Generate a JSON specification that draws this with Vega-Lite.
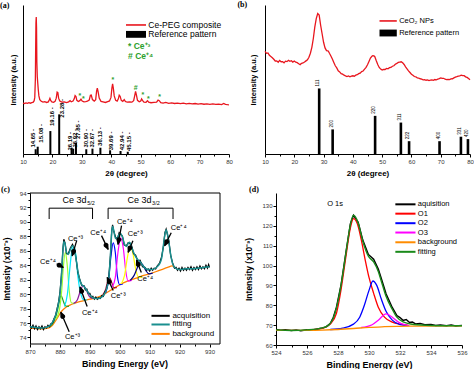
{
"$schema": "https://vega.github.io/schema/vega-lite/v6.json",
"padding": {"left": 0, "top": 1, "right": 0, "bottom": 0},
"background": "white",
"config": {
 "view": {"stroke": null},
 "font": "Liberation Sans",
 "axis": {"domainColor": "#000", "tickColor": "#000", "labelColor": "#333", "labelFontSize": 6, "labelFont": "Liberation Sans", "titleFont": "Liberation Sans", "titleColor": "#000", "titleFontWeight": "bold", "grid": false, "labelOverlap": false, "labelPadding": 1, "labelFlush": false, "domainWidth": 1, "tickWidth": 1},
 "text": {"font": "Liberation Sans"}
},
"datasets": {
 "a_line": [{"x":10,"y":34.2},{"x":10.5,"y":33.9},{"x":11,"y":34.3},{"x":11.5,"y":34.0},{"x":12,"y":34.4},{"x":12.5,"y":34.1},{"x":13,"y":34.5},{"x":13.5,"y":34.8},{"x":13.8,"y":35.8},{"x":14.0,"y":38},{"x":14.2,"y":50},{"x":14.3,"y":70},{"x":14.4,"y":88},{"x":14.5,"y":92},{"x":14.6,"y":85},{"x":14.7,"y":62},{"x":14.85,"y":52},{"x":15.0,"y":48},{"x":15.2,"y":43},{"x":15.4,"y":39},{"x":15.7,"y":36.5},{"x":16.2,"y":35.4},{"x":16.8,"y":34.8},{"x":17.4,"y":35.1},{"x":18.0,"y":34.6},{"x":18.6,"y":35.0},{"x":18.95,"y":36.4},{"x":19.15,"y":37.4},{"x":19.4,"y":36},{"x":19.8,"y":35},{"x":20.4,"y":34.7},{"x":20.9,"y":35.3},{"x":21.3,"y":37.5},{"x":21.6,"y":41.5},{"x":21.85,"y":41.2},{"x":22.1,"y":37.5},{"x":22.5,"y":35.5},{"x":23.2,"y":34.8},{"x":24,"y":35},{"x":24.8,"y":34.5},{"x":25.5,"y":35},{"x":26,"y":35.8},{"x":26.4,"y":35},{"x":27,"y":35.5},{"x":27.4,"y":37},{"x":27.7,"y":39.2},{"x":28,"y":38.5},{"x":28.3,"y":36},{"x":28.8,"y":35.2},{"x":29.3,"y":35.8},{"x":29.7,"y":36.8},{"x":30.1,"y":35.5},{"x":30.7,"y":35},{"x":31.3,"y":35.2},{"x":31.9,"y":35.5},{"x":32.5,"y":36.2},{"x":32.9,"y":39.4},{"x":33.2,"y":39.6},{"x":33.6,"y":36.5},{"x":34.2,"y":35.5},{"x":34.7,"y":36.5},{"x":35.0,"y":42},{"x":35.25,"y":44.2},{"x":35.5,"y":42},{"x":35.9,"y":37.5},{"x":36.5,"y":35.3},{"x":37.2,"y":35},{"x":38,"y":34.6},{"x":38.8,"y":35.2},{"x":39.4,"y":35.6},{"x":39.9,"y":38},{"x":40.2,"y":44},{"x":40.45,"y":47},{"x":40.7,"y":44},{"x":41.0,"y":39},{"x":41.5,"y":36},{"x":42.0,"y":35.5},{"x":42.4,"y":37},{"x":42.7,"y":39.5},{"x":43.0,"y":38.8},{"x":43.4,"y":36},{"x":43.9,"y":35.3},{"x":44.4,"y":36.5},{"x":44.8,"y":35.2},{"x":45.4,"y":34.8},{"x":46.2,"y":35},{"x":47,"y":34.8},{"x":47.6,"y":35.8},{"x":47.95,"y":39},{"x":48.25,"y":42},{"x":48.55,"y":39.5},{"x":48.9,"y":36},{"x":49.5,"y":35},{"x":50.0,"y":35.5},{"x":50.3,"y":37},{"x":50.6,"y":36},{"x":51.1,"y":34.8},{"x":51.8,"y":34.7},{"x":52.3,"y":35.8},{"x":52.7,"y":34.8},{"x":53.5,"y":34.4},{"x":54.5,"y":34.6},{"x":55.4,"y":34.8},{"x":55.9,"y":36.2},{"x":56.3,"y":35.8},{"x":56.8,"y":34.5},{"x":57.6,"y":34.2},{"x":58.5,"y":34.6},{"x":59.5,"y":34},{"x":60.5,"y":34.3},{"x":61.5,"y":33.9},{"x":62.5,"y":34.2},{"x":63.5,"y":33.8},{"x":64.5,"y":34.1},{"x":65.5,"y":33.7},{"x":66.5,"y":34},{"x":67.5,"y":33.6},{"x":68.5,"y":33.9},{"x":69.5,"y":33.5},{"x":70.5,"y":33.8},{"x":71.5,"y":33.4},{"x":72.5,"y":33.7},{"x":73.5,"y":33.3},{"x":74.5,"y":33.6},{"x":75.5,"y":33.3},{"x":76.5,"y":33.5},{"x":77.5,"y":33.2},{"x":78.2,"y":33.9},{"x":78.8,"y":33.3},{"x":79.5,"y":33.1},{"x":80,"y":33.0}],
 "a_bars": [{"x":14.3,"y":3.2},{"x":15.0,"y":4.9},{"x":19.3,"y":15.4},{"x":22.3,"y":26.6},{"x":26.5,"y":4.2},{"x":27.05,"y":3.6},{"x":28.0,"y":7.6},{"x":31.5,"y":3.2},{"x":33.6,"y":3.6},{"x":36.3,"y":4.2},{"x":39.6,"y":2.5},{"x":43.15,"y":2.0},{"x":45.6,"y":1.5}],
 "a_blab": [{"x":13.4,"y":4.3,"t":"14.65 -"},{"x":16.0,"y":7.6,"t":"15.08 -"},{"x":19.85,"y":18.8,"t":"19.16 -"},{"x":23.35,"y":24.4,"t":"23.28 -"},{"x":25.9,"y":2.3,"t":"26.19 -"},{"x":27.55,"y":4.3,"t":"26.92 -"},{"x":28.7,"y":10,"t":"27.85 -"},{"x":31.4,"y":4.3,"t":"30.90 -"},{"x":33.55,"y":4.3,"t":"32.67 -"},{"x":36.15,"y":5.4,"t":"36.13 -"},{"x":39.9,"y":2.5,"t":"39.69 -"},{"x":43.55,"y":2.5,"t":"42.94 -"},{"x":46.1,"y":2.0,"t":"45.15 -"}],
 "a_mark": [{"x":29.3,"y":38.9,"t":"*"},{"x":30.5,"y":37.1,"t":"*"},{"x":40.5,"y":49.5,"t":"*"},{"x":48.3,"y":44.1,"t":"#"},{"x":50.7,"y":39.6,"t":"*"},{"x":52.6,"y":36.7,"t":"*"},{"x":56.4,"y":38.5,"t":"*"}],
 "a_legl": [{"x":45,"x2":51.8,"y":86.6}],
 "a_legr": [{"x":45,"x2":51.8,"y":78.0,"y2":82.6}],
 "a_legt": [{"x":52.6,"y":86.6,"t":"Ce-PEG composite"},{"x":52.6,"y":80.3,"t":"Reference pattern"}],
 "a_legg": [{"x":45.7,"y":72.3,"t":"* Ce⁺³"},{"x":45.7,"y":65.8,"t":"# Ce⁺⁴"}],
 "a_pl": [{"x":3.78,"y":99.3,"t":"(a)"}],
 "b_pl": [{"x":2.25,"y":99.7,"t":"(b)"}],
 "c_pl": [{"x":861.8,"y":94.46,"t":"(c)"}],
 "d_pl": [{"x":522.58,"y":138.1,"t":"(d)"}],
 "b_line": [{"x":10,"y":68.9},{"x":10.5,"y":67.6},{"x":11,"y":67.8},{"x":11.5,"y":66.2},{"x":12,"y":65.4},{"x":12.5,"y":64.6},{"x":13,"y":63.6},{"x":13.5,"y":62.4},{"x":14,"y":62.5},{"x":14.5,"y":61.6},{"x":15,"y":62.8},{"x":15.5,"y":61.9},{"x":16,"y":62.0},{"x":16.5,"y":61.2},{"x":17,"y":62.3},{"x":17.5,"y":62.0},{"x":18,"y":62.9},{"x":18.5,"y":62.2},{"x":19,"y":62.6},{"x":19.5,"y":61.7},{"x":20,"y":62.4},{"x":20.5,"y":61.6},{"x":21,"y":61.3},{"x":21.5,"y":60.6},{"x":22,"y":60.0},{"x":22.5,"y":60.9},{"x":23,"y":61.1},{"x":23.5,"y":61.7},{"x":24,"y":62.5},{"x":24.5,"y":63.2},{"x":25,"y":64.9},{"x":25.5,"y":67.6},{"x":26,"y":71.6},{"x":26.5,"y":77.5},{"x":27,"y":85.2},{"x":27.5,"y":90.9},{"x":28,"y":94.3},{"x":28.5,"y":93.2},{"x":29,"y":86.4},{"x":29.5,"y":80.7},{"x":30,"y":75.0},{"x":30.5,"y":71.2},{"x":31,"y":69.4},{"x":31.5,"y":69.3},{"x":31.8,"y":68.4},{"x":32,"y":67.6},{"x":32.5,"y":65.8},{"x":33,"y":63.7},{"x":33.5,"y":61.4},{"x":34,"y":59.2},{"x":34.5,"y":57.8},{"x":35,"y":55.8},{"x":35.5,"y":55.1},{"x":36,"y":53.9},{"x":36.5,"y":53.6},{"x":37,"y":52.9},{"x":37.5,"y":52.4},{"x":38,"y":52.0},{"x":38.5,"y":52.4},{"x":39,"y":51.8},{"x":39.5,"y":52.3},{"x":40,"y":52.5},{"x":40.5,"y":52.2},{"x":41,"y":52.9},{"x":41.5,"y":53.2},{"x":42,"y":53.9},{"x":42.5,"y":54.3},{"x":43,"y":55.3},{"x":43.5,"y":55.7},{"x":44,"y":56.9},{"x":44.5,"y":58.2},{"x":45,"y":59.9},{"x":45.5,"y":62.1},{"x":46,"y":64.4},{"x":46.5,"y":65.6},{"x":46.8,"y":66.0},{"x":47.2,"y":65.8},{"x":47.5,"y":65.3},{"x":48,"y":62.6},{"x":48.5,"y":60.1},{"x":49,"y":58.1},{"x":49.5,"y":57.0},{"x":50,"y":56.3},{"x":50.5,"y":56.8},{"x":51,"y":56.7},{"x":51.5,"y":57.4},{"x":52,"y":57.2},{"x":52.5,"y":57.9},{"x":53,"y":58.1},{"x":53.5,"y":58.9},{"x":54,"y":59.2},{"x":54.5,"y":60.2},{"x":55,"y":60.8},{"x":55.5,"y":61.5},{"x":56,"y":61.7},{"x":56.5,"y":61.9},{"x":57,"y":61.2},{"x":57.5,"y":60.1},{"x":58,"y":58.5},{"x":58.5,"y":57.2},{"x":59,"y":55.8},{"x":59.5,"y":54.7},{"x":60,"y":53.5},{"x":60.5,"y":52.9},{"x":61,"y":52.0},{"x":61.5,"y":51.8},{"x":62,"y":51.1},{"x":62.5,"y":50.9},{"x":63,"y":50.5},{"x":63.5,"y":50.3},{"x":64,"y":49.8},{"x":64.5,"y":49.9},{"x":65,"y":49.5},{"x":65.5,"y":49.7},{"x":66,"y":49.3},{"x":66.5,"y":49.6},{"x":67,"y":49.7},{"x":67.5,"y":49.4},{"x":68,"y":50.0},{"x":68.5,"y":49.8},{"x":69,"y":50.2},{"x":69.5,"y":50.6},{"x":70,"y":51.1},{"x":70.5,"y":50.7},{"x":71,"y":50.8},{"x":71.5,"y":50.2},{"x":72,"y":49.9},{"x":72.5,"y":50.1},{"x":73,"y":49.9},{"x":73.5,"y":50.4},{"x":74,"y":50.5},{"x":74.5,"y":51.1},{"x":75,"y":51.6},{"x":75.5,"y":51.9},{"x":76,"y":52.3},{"x":76.5,"y":52.5},{"x":77,"y":52.9},{"x":77.5,"y":52.6},{"x":78,"y":52.6},{"x":78.5,"y":51.8},{"x":79,"y":51.4},{"x":79.5,"y":50.6},{"x":80,"y":49.8}],
 "b_bars": [{"x":28.5,"y":44.0,"t":"111"},{"x":33.1,"y":16.5,"t":"200"},{"x":47.6,"y":25.6,"t":"220"},{"x":56.4,"y":21.1,"t":"311"},{"x":59.2,"y":8.6,"t":"222"},{"x":69.6,"y":8.6,"t":"400"},{"x":76.9,"y":11.6,"t":"331"},{"x":79.3,"y":10.0,"t":"420"}],
 "b_legl": [{"x":49.1,"x2":55.0,"y":89.3}],
 "b_legr": [{"x":49.1,"x2":55.0,"y":78.9,"y2":83.5}],
 "b_legt": [{"x":55.8,"y":89.3,"t":"CeO₂ NPs"},{"x":55.8,"y":81.2,"t":"Reference pattern"}],
 "c_frame_h": [{"x":870,"x2":933.5,"y":73.1},{"x":870,"x2":933.5,"y":94}],
 "c_frame_v": [{"x":933.5,"y":73.1,"y2":94}],
 "c_bg": [{"s":"bg","x":870,"y":75.3},{"s":"bg","x":874,"y":75.2},{"s":"bg","x":876,"y":75.3},{"s":"bg","x":877.5,"y":75.7},{"s":"bg","x":879,"y":76.6},{"s":"bg","x":880.5,"y":77.6},{"s":"bg","x":882,"y":78.2},{"s":"bg","x":884,"y":78.6},{"s":"bg","x":886,"y":78.9},{"s":"bg","x":888,"y":79.1},{"s":"bg","x":890,"y":79.3},{"s":"bg","x":892,"y":79.5},{"s":"bg","x":894,"y":79.8},{"s":"bg","x":896,"y":80.3},{"s":"bg","x":898,"y":80.8},{"s":"bg","x":900,"y":81.3},{"s":"bg","x":902,"y":81.7},{"s":"bg","x":904,"y":82.0},{"s":"bg","x":906,"y":82.3},{"s":"bg","x":908,"y":82.6},{"s":"bg","x":910,"y":82.8},{"s":"bg","x":912,"y":83.1},{"s":"bg","x":914,"y":83.4},{"s":"bg","x":916,"y":83.7},{"s":"bg","x":917.5,"y":83.9},{"s":"bg","x":918.5,"y":83.6}],
 "c_comp": [
  {"s":"g1","x":876.5,"y":75.5},{"s":"g1","x":878,"y":76.2},{"s":"g1","x":879.2,"y":77.8},{"s":"g1","x":880,"y":79.4},{"s":"g1","x":880.4,"y":79.8},{"s":"g1","x":881,"y":79.2},{"s":"g1","x":881.8,"y":78.4},{"s":"g1","x":883,"y":78.3},
  {"s":"g2","x":878.5,"y":76.5},{"s":"g2","x":879.8,"y":77.8},{"s":"g2","x":880.6,"y":80.5},{"s":"g2","x":881.2,"y":84.0},{"s":"g2","x":881.8,"y":85.8},{"s":"g2","x":882.4,"y":84.2},{"s":"g2","x":883.1,"y":80.5},{"s":"g2","x":883.8,"y":78.8},{"s":"g2","x":885,"y":78.7},
  {"s":"g3","x":881.5,"y":78.3},{"s":"g3","x":882.5,"y":80.0},{"s":"g3","x":883.3,"y":83.5},{"s":"g3","x":884,"y":86.0},{"s":"g3","x":884.6,"y":86.5},{"s":"g3","x":885.3,"y":85.5},{"s":"g3","x":886,"y":82.5},{"s":"g3","x":887,"y":80.0},{"s":"g3","x":888,"y":79.2},{"s":"g3","x":889,"y":79.2},
  {"s":"g4","x":884.5,"y":78.7},{"s":"g4","x":885.8,"y":79.2},{"s":"g4","x":886.8,"y":80.4},{"s":"g4","x":887.8,"y":81.2},{"s":"g4","x":888.8,"y":80.6},{"s":"g4","x":889.8,"y":79.7},{"s":"g4","x":891,"y":79.4},
  {"s":"g5","x":894.3,"y":79.9},{"s":"g5","x":895.3,"y":80.7},{"s":"g5","x":896,"y":81.8},{"s":"g5","x":896.6,"y":82.3},{"s":"g5","x":897.3,"y":81.6},{"s":"g5","x":898,"y":80.9},{"s":"g5","x":899,"y":80.9},
  {"s":"g6","x":895.3,"y":80.2},{"s":"g6","x":896.2,"y":81.8},{"s":"g6","x":897,"y":85.0},{"s":"g6","x":897.8,"y":87.1},{"s":"g6","x":898.5,"y":85.8},{"s":"g6","x":899.2,"y":82.5},{"s":"g6","x":900,"y":81.3},{"s":"g6","x":901,"y":81.4},
  {"s":"g7","x":897.5,"y":81.0},{"s":"g7","x":898.5,"y":82.3},{"s":"g7","x":899.4,"y":85.8},{"s":"g7","x":900.3,"y":87.8},{"s":"g7","x":901.2,"y":86.3},{"s":"g7","x":902,"y":83.2},{"s":"g7","x":902.8,"y":81.8},{"s":"g7","x":904,"y":81.9},
  {"s":"g8","x":900.5,"y":81.4},{"s":"g8","x":901.6,"y":82.6},{"s":"g8","x":902.6,"y":85.2},{"s":"g8","x":903.5,"y":86.6},{"s":"g8","x":904.4,"y":85.6},{"s":"g8","x":905.3,"y":83.5},{"s":"g8","x":906.3,"y":82.3},{"s":"g8","x":907.5,"y":82.4},
  {"s":"g9","x":903.5,"y":81.9},{"s":"g9","x":904.8,"y":82.6},{"s":"g9","x":905.8,"y":83.6},{"s":"g9","x":906.8,"y":84.4},{"s":"g9","x":907.8,"y":84.0},{"s":"g9","x":908.8,"y":83.2},{"s":"g9","x":909.8,"y":82.8},{"s":"g9","x":911,"y":82.9}],
 "c_acq": [{"x":870,"y":75.6},{"x":870.5,"y":75.3},{"x":871,"y":75.7},{"x":871.5,"y":75.2},{"x":872,"y":75.6},{"x":872.5,"y":75.1},{"x":873,"y":75.5},{"x":873.5,"y":75.2},{"x":874,"y":75.6},{"x":874.5,"y":75.1},{"x":875,"y":75.5},{"x":875.5,"y":75.3},{"x":876,"y":75.7},{"x":876.5,"y":75.5},{"x":877,"y":75.9},{"x":877.5,"y":76.0},{"x":878,"y":76.6},{"x":878.5,"y":77.0},{"x":879,"y":77.9},{"x":879.5,"y":78.8},{"x":880,"y":80.2},{"x":880.5,"y":82.6},{"x":881,"y":86.2},{"x":881.3,"y":87.6},{"x":881.7,"y":87.1},{"x":882.2,"y":85.6},{"x":882.8,"y":85.6},{"x":883.5,"y":86.4},{"x":884.2,"y":86.9},{"x":884.8,"y":86.3},{"x":885.4,"y":84.9},{"x":886,"y":83.0},{"x":886.6,"y":82.1},{"x":887.3,"y":81.2},{"x":888,"y":81.2},{"x":888.5,"y":80.6},{"x":889,"y":80.7},{"x":889.5,"y":80.1},{"x":890,"y":80.1},{"x":890.5,"y":79.6},{"x":891,"y":79.7},{"x":891.5,"y":79.3},{"x":892,"y":79.6},{"x":892.5,"y":79.3},{"x":893,"y":79.5},{"x":893.5,"y":79.4},{"x":894,"y":79.8},{"x":894.5,"y":79.7},{"x":895,"y":80.3},{"x":895.5,"y":80.6},{"x":895.8,"y":81.1},{"x":896.4,"y":82.7},{"x":896.9,"y":85.4},{"x":897.3,"y":88.7},{"x":897.6,"y":89.6},{"x":898,"y":88.7},{"x":898.6,"y":87.9},{"x":899.2,"y":87.6},{"x":899.8,"y":88.5},{"x":900.3,"y":88.3},{"x":900.9,"y":88.0},{"x":901.5,"y":86.8},{"x":902.2,"y":86.7},{"x":902.8,"y":87.1},{"x":903.3,"y":87.0},{"x":903.9,"y":86.8},{"x":904.6,"y":85.6},{"x":905.3,"y":85.4},{"x":906,"y":84.6},{"x":906.8,"y":84.7},{"x":907.6,"y":83.8},{"x":908.5,"y":83.7},{"x":909,"y":83.3},{"x":909.5,"y":83.5},{"x":910,"y":83.2},{"x":910.5,"y":83.6},{"x":911,"y":83.3},{"x":911.5,"y":83.6},{"x":912,"y":83.5},{"x":912.5,"y":83.9},{"x":913.3,"y":84.3},{"x":914,"y":85.2},{"x":914.6,"y":86.6},{"x":915.1,"y":88.5},{"x":915.5,"y":89.0},{"x":915.9,"y":88.3},{"x":916.4,"y":87.4},{"x":917,"y":85.4},{"x":917.6,"y":84.4},{"x":918.3,"y":83.6},{"x":918.8,"y":83.7},{"x":919.3,"y":83.3},{"x":919.8,"y":83.6},{"x":920.3,"y":83.2},{"x":920.8,"y":83.7},{"x":921.3,"y":83.3},{"x":921.8,"y":83.6},{"x":922.3,"y":83.3},{"x":922.8,"y":83.7},{"x":923.3,"y":83.4},{"x":923.8,"y":83.8},{"x":924.3,"y":83.3},{"x":924.8,"y":83.7},{"x":925.3,"y":83.4},{"x":925.8,"y":83.8},{"x":926.3,"y":83.4},{"x":926.8,"y":83.9},{"x":927.3,"y":83.5},{"x":927.8,"y":83.8},{"x":928.3,"y":83.5},{"x":928.8,"y":84.0},{"x":929.3,"y":83.6},{"x":929.7,"y":84.1},{"x":930,"y":83.7}],
 "c_fit": [{"x":870,"y":75.5},{"x":872,"y":75.4},{"x":874,"y":75.3},{"x":875.5,"y":75.4},{"x":876.5,"y":75.6},{"x":877.5,"y":76.1},{"x":878.5,"y":77.0},{"x":879.3,"y":78.3},{"x":880,"y":80.0},{"x":880.5,"y":82.5},{"x":881,"y":86.0},{"x":881.3,"y":87.3},{"x":881.7,"y":87.0},{"x":882.2,"y":85.8},{"x":882.8,"y":85.5},{"x":883.5,"y":86.2},{"x":884.2,"y":86.7},{"x":884.8,"y":86.4},{"x":885.4,"y":84.8},{"x":886,"y":83.2},{"x":886.6,"y":82.0},{"x":887.3,"y":81.3},{"x":888,"y":81.1},{"x":889,"y":80.5},{"x":890,"y":79.9},{"x":891,"y":79.5},{"x":892,"y":79.4},{"x":893,"y":79.4},{"x":894,"y":79.6},{"x":895,"y":80.1},{"x":895.8,"y":81.0},{"x":896.4,"y":82.5},{"x":896.9,"y":85.5},{"x":897.3,"y":88.5},{"x":897.6,"y":89.4},{"x":898,"y":88.8},{"x":898.6,"y":87.7},{"x":899.2,"y":87.8},{"x":899.8,"y":88.3},{"x":900.3,"y":88.4},{"x":900.9,"y":87.9},{"x":901.5,"y":87.0},{"x":902.2,"y":86.6},{"x":902.8,"y":87.0},{"x":903.3,"y":87.2},{"x":903.9,"y":86.6},{"x":904.6,"y":85.8},{"x":905.3,"y":85.2},{"x":906,"y":84.8},{"x":906.8,"y":84.5},{"x":907.6,"y":84.0},{"x":908.5,"y":83.6},{"x":909.5,"y":83.4},{"x":910.5,"y":83.4},{"x":911.5,"y":83.5},{"x":912.5,"y":83.8},{"x":913.3,"y":84.2},{"x":914,"y":85.0},{"x":914.6,"y":86.8},{"x":915.1,"y":88.3},{"x":915.5,"y":88.9},{"x":915.9,"y":88.4},{"x":916.4,"y":87.2},{"x":917,"y":85.5},{"x":917.6,"y":84.3},{"x":918.3,"y":83.7},{"x":919,"y":83.5},{"x":920,"y":83.4},{"x":922,"y":83.5},{"x":924,"y":83.5},{"x":926,"y":83.6},{"x":928,"y":83.7},{"x":930,"y":83.8}],
 "c_brh": [{"x":876.4,"x2":890.9,"y":91.9},{"x":896.1,"x2":917.8,"y":91.9}],
 "c_brv": [{"x":876.4,"y":91.9,"y2":90.4},{"x":890.9,"y":91.9,"y2":90.4},{"x":896.1,"y":91.9,"y2":90.4},{"x":917.8,"y":91.9,"y2":90.4}],
 "c_brt": [{"x":888.9,"y":92.6,"t":"Ce 3d"},{"x":910.6,"y":92.6,"t":"Ce 3d"}],
 "c_brs": [{"x":889.1,"y":92.6,"t":"5/2"},{"x":910.8,"y":92.6,"t":"3/2"}],
 "c_lab": [{"x":876,"y":84.4,"t":"Ce⁺⁴"},{"x":885.2,"y":87.7,"t":"Ce⁺³"},{"x":892.8,"y":88.4,"t":"Ce⁺⁴"},{"x":901.7,"y":90.0,"t":"Ce⁺⁴"},{"x":905.2,"y":88.3,"t":"Ce⁺³"},{"x":919.7,"y":89.1,"t":"Ce⁺⁴"},{"x":890,"y":77.4,"t":"Ce⁺⁴"},{"x":884.2,"y":74.0,"t":"Ce⁺³"},{"x":899.5,"y":79.8,"t":"Ce⁺³"},{"x":908.5,"y":82.1,"t":"Ce⁺⁴"}],
 "c_arr": [{"x":878.9,"y":84.2,"x2":881.1,"y2":83.7},{"x":885.6,"y":87.4,"x2":884.1,"y2":85.3},{"x":893.9,"y":88.1,"x2":896.1,"y2":86.2},{"x":900.6,"y":89.5,"x2":899.4,"y2":86.9},{"x":904.4,"y":87.4,"x2":902.8,"y2":85.8},{"x":917.2,"y":88.5,"x2":915,"y2":86.7},{"x":889.1,"y":78.3,"x2":886.7,"y2":81.0},{"x":883.1,"y":74.8,"x2":880.3,"y2":77.5},{"x":897.8,"y":80.5,"x2":895.8,"y2":82.3},{"x":907.2,"y":83.0,"x2":905.6,"y2":84.7}],
 "c_head": [
  {"id":1,"p":"base","x":879.78,"y":84.0},{"id":1,"p":"tip","x":881.1,"y":83.7},
  {"id":2,"p":"base","x":884.53,"y":85.9},{"id":2,"p":"tip","x":884.1,"y":85.3},
  {"id":3,"p":"base","x":895.45,"y":86.76},{"id":3,"p":"tip","x":896.1,"y":86.2},
  {"id":4,"p":"base","x":899.68,"y":87.51},{"id":4,"p":"tip","x":899.4,"y":86.9},
  {"id":5,"p":"base","x":903.37,"y":86.38},{"id":5,"p":"tip","x":902.8,"y":85.8},
  {"id":6,"p":"base","x":915.68,"y":87.25},{"id":6,"p":"tip","x":915,"y":86.7},
  {"id":7,"p":"base","x":887.22,"y":80.42},{"id":7,"p":"tip","x":886.7,"y":81.0},
  {"id":8,"p":"base","x":880.9,"y":76.93},{"id":8,"p":"tip","x":880.3,"y":77.5},
  {"id":9,"p":"base","x":896.43,"y":81.73},{"id":9,"p":"tip","x":895.8,"y":82.3},
  {"id":10,"p":"base","x":906.15,"y":84.12},{"id":10,"p":"tip","x":905.6,"y":84.7}],
 "c_leg": [{"x":910.6,"x2":916.7,"y":77.0,"s":"acq"},{"x":910.6,"x2":916.7,"y":75.8,"s":"fit"},{"x":910.6,"x2":916.7,"y":74.5,"s":"bg"}],
 "c_legt": [{"x":917.6,"y":77.0,"t":"acquisition"},{"x":917.6,"y":75.8,"t":"fitting"},{"x":917.6,"y":74.5,"t":"background"}],
 "d_acq": [{"s":"acq","x":524,"y":67.8},{"s":"acq","x":524.3,"y":67.4},{"s":"acq","x":524.6,"y":67.7},{"s":"acq","x":525,"y":67.3},{"s":"acq","x":525.3,"y":67.6},{"s":"acq","x":525.6,"y":67.2},{"s":"acq","x":526,"y":67.7},{"s":"acq","x":526.3,"y":67.5},{"s":"acq","x":526.6,"y":68.0},{"s":"acq","x":526.9,"y":68.4},{"s":"acq","x":527.2,"y":69.0},{"s":"acq","x":527.5,"y":70.8},{"s":"acq","x":527.7,"y":74.0},{"s":"acq","x":527.9,"y":79.0},{"s":"acq","x":528.2,"y":90.4},{"s":"acq","x":528.56,"y":109.2},{"s":"acq","x":528.8,"y":121},{"s":"acq","x":529,"y":125.3},{"s":"acq","x":529.3,"y":121.8},{"s":"acq","x":529.6,"y":112.8},{"s":"acq","x":529.96,"y":105.6},{"s":"acq","x":530.3,"y":103.2},{"s":"acq","x":530.6,"y":98.2},{"s":"acq","x":530.8,"y":93.4},{"s":"acq","x":531.1,"y":85.8},{"s":"acq","x":531.5,"y":78.9},{"s":"acq","x":531.8,"y":74.8},{"s":"acq","x":532,"y":73.8},{"s":"acq","x":532.2,"y":72.4},{"s":"acq","x":532.4,"y":72.8},{"s":"acq","x":532.6,"y":71.4},{"s":"acq","x":532.8,"y":71.6},{"s":"acq","x":533,"y":70.6},{"s":"acq","x":533.3,"y":70.9},{"s":"acq","x":533.6,"y":70.2},{"s":"acq","x":534,"y":70.4},{"s":"acq","x":534.3,"y":69.8},{"s":"acq","x":534.6,"y":70.1},{"s":"acq","x":535,"y":69.7},{"s":"acq","x":535.3,"y":70.1},{"s":"acq","x":535.6,"y":69.6},{"s":"acq","x":536,"y":69.9}],
 "d_comp": [
  {"s":"O1","x":526,"y":67.6},{"s":"O1","x":527,"y":68.4},{"s":"O1","x":527.5,"y":70.5},{"s":"O1","x":527.9,"y":76},{"s":"O1","x":528.2,"y":88},{"s":"O1","x":528.5,"y":104},{"s":"O1","x":528.8,"y":119},{"s":"O1","x":529.0,"y":123.6},{"s":"O1","x":529.25,"y":121},{"s":"O1","x":529.5,"y":113},{"s":"O1","x":529.75,"y":103},{"s":"O1","x":530,"y":94},{"s":"O1","x":530.3,"y":86},{"s":"O1","x":530.6,"y":79},{"s":"O1","x":531,"y":74},{"s":"O1","x":531.5,"y":71.5},{"s":"O1","x":532,"y":70.5},{"s":"O1","x":532.5,"y":70},
  {"s":"O2","x":527.5,"y":67.8},{"s":"O2","x":528.3,"y":68.5},{"s":"O2","x":529,"y":70.5},{"s":"O2","x":529.4,"y":74},{"s":"O2","x":529.7,"y":80},{"s":"O2","x":530,"y":87.5},{"s":"O2","x":530.25,"y":92.2},{"s":"O2","x":530.5,"y":90},{"s":"O2","x":530.8,"y":83},{"s":"O2","x":531.1,"y":77},{"s":"O2","x":531.5,"y":72.5},{"s":"O2","x":532,"y":70.3},{"s":"O2","x":532.5,"y":69.8},
  {"s":"O3","x":529.5,"y":68.8},{"s":"O3","x":530.2,"y":70.2},{"s":"O3","x":530.6,"y":72.5},{"s":"O3","x":531.1,"y":75.7},{"s":"O3","x":531.5,"y":74},{"s":"O3","x":531.9,"y":71.5},{"s":"O3","x":532.3,"y":70.2},{"s":"O3","x":532.6,"y":69.8},
  {"s":"bg","x":524,"y":67.4},{"s":"bg","x":526,"y":67.4},{"s":"bg","x":527,"y":67.5},{"s":"bg","x":528,"y":67.8},{"s":"bg","x":529,"y":68.3},{"s":"bg","x":530,"y":68.9},{"s":"bg","x":531,"y":69.2},{"s":"bg","x":532,"y":69.4},{"s":"bg","x":533,"y":69.5},{"s":"bg","x":536,"y":69.6}],
 "d_fit": [{"s":"fit","x":524,"y":67.6},{"s":"fit","x":525,"y":67.3},{"s":"fit","x":526,"y":67.6},{"s":"fit","x":526.6,"y":68.0},{"s":"fit","x":527,"y":68.6},{"s":"fit","x":527.4,"y":70.0},{"s":"fit","x":527.7,"y":73.6},{"s":"fit","x":527.9,"y":78.6},{"s":"fit","x":528.2,"y":90.3},{"s":"fit","x":528.56,"y":108.8},{"s":"fit","x":528.8,"y":120.6},{"s":"fit","x":529,"y":125.3},{"s":"fit","x":529.3,"y":121.4},{"s":"fit","x":529.6,"y":112.2},{"s":"fit","x":529.96,"y":104.7},{"s":"fit","x":530.3,"y":101.8},{"s":"fit","x":530.6,"y":97},{"s":"fit","x":530.8,"y":92},{"s":"fit","x":531.1,"y":84.5},{"s":"fit","x":531.5,"y":78},{"s":"fit","x":531.8,"y":74},{"s":"fit","x":532.2,"y":71.6},{"s":"fit","x":532.9,"y":70.3},{"s":"fit","x":534,"y":69.8},{"s":"fit","x":535,"y":69.7},{"s":"fit","x":536,"y":69.7}],
 "d_leg": [{"x":531.7,"x2":533.0,"y":130.8,"s":"acq"},{"x":531.7,"x2":533.0,"y":126.1,"s":"O1"},{"x":531.7,"x2":533.0,"y":121.3,"s":"O2"},{"x":531.7,"x2":533.0,"y":116.6,"s":"O3"},{"x":531.7,"x2":533.0,"y":111.7,"s":"bg"},{"x":531.7,"x2":533.0,"y":106.9,"s":"fit"}],
 "d_legt": [{"x":533.15,"y":130.8,"t":"aquisition"},{"x":533.15,"y":126.1,"t":"O1"},{"x":533.15,"y":121.3,"t":"O2"},{"x":533.15,"y":116.6,"t":"O3"},{"x":533.15,"y":111.7,"t":"background"},{"x":533.15,"y":106.9,"t":"fitting"},{"x":527.3,"y":130.8,"t":"O 1s"}]
},
"spacing": 8,
"resolve": {"scale": {"color": "independent"}},
"vconcat": [
 {"hconcat": [
  {"width": 206, "height": 149,
   "encoding": {
    "x": {"field": "x", "type": "quantitative", "scale": {"domain": [10, 80], "nice": false, "zero": false}, "axis": {"title": "2θ (degree)", "values": [10,15,20,25,30,35,40,45,50,55,60,65,70,75,80], "labelExpr": "datum.value % 10 === 0 ? datum.label : ''", "tickSize": {"condition": {"test": "datum.value % 10 !== 0", "value": 2}, "value": 3}, "titleFontSize": 8, "titlePadding": 5}},
    "y": {"field": "y", "type": "quantitative", "scale": {"domain": [0, 100], "nice": false, "zero": false}, "axis": {"title": "Intensity (a.u.)", "ticks": false, "labels": false, "titleFontSize": 7.5, "titlePadding": 6}}
   },
   "layer": [
    {"data": {"name": "a_line"}, "mark": {"type": "line", "color": "#e8161e", "strokeWidth": 1.3}},
    {"data": {"name": "a_bars"}, "mark": {"type": "rule", "color": "#000", "strokeWidth": 2}, "encoding": {"y2": {"datum": 0}}},
    {"data": {"name": "a_blab"}, "mark": {"type": "text", "angle": 270, "align": "left", "baseline": "middle", "fontSize": 6, "fontWeight": "bold", "color": "#000"}, "encoding": {"text": {"field": "t"}}},
    {"data": {"name": "a_mark"}, "mark": {"type": "text", "fontSize": 7, "fontWeight": "bold", "color": "#2ca02c", "baseline": "middle"}, "encoding": {"text": {"field": "t"}}},
    {"data": {"name": "a_legl"}, "mark": {"type": "rule", "color": "#e8161e", "strokeWidth": 1.6}, "encoding": {"x2": {"field": "x2"}}},
    {"data": {"name": "a_legr"}, "mark": {"type": "rect", "color": "#000"}, "encoding": {"x2": {"field": "x2"}, "y2": {"field": "y2"}}},
    {"data": {"name": "a_legt"}, "mark": {"type": "text", "align": "left", "baseline": "middle", "fontSize": 8.5, "color": "#000"}, "encoding": {"text": {"field": "t"}}},
    {"data": {"name": "a_legg"}, "mark": {"type": "text", "align": "left", "baseline": "middle", "fontSize": 8.5, "fontWeight": "bold", "color": "#2ca02c"}, "encoding": {"text": {"field": "t"}}},
    {"data": {"name": "a_pl"}, "mark": {"type": "text", "align": "center", "baseline": "middle", "font": "Liberation Serif", "fontWeight": "bold", "fontSize": 8, "color": "#000"}, "encoding": {"text": {"field": "t"}}}
   ]},
  {"width": 205, "height": 149,
   "encoding": {
    "x": {"field": "x", "type": "quantitative", "scale": {"domain": [10, 80], "nice": false, "zero": false}, "axis": {"title": "2θ (degree)", "values": [10,15,20,25,30,35,40,45,50,55,60,65,70,75,80], "labelExpr": "datum.value % 10 === 0 ? datum.label : ''", "tickSize": {"condition": {"test": "datum.value % 10 !== 0", "value": 2}, "value": 3}, "titleFontSize": 8, "titlePadding": 5}},
    "y": {"field": "y", "type": "quantitative", "scale": {"domain": [0, 100], "nice": false, "zero": false}, "axis": {"title": "Intensity (a.u.)", "ticks": false, "labels": false, "titleFontSize": 7.5, "titlePadding": 7.5}}
   },
   "layer": [
    {"data": {"name": "b_line"}, "mark": {"type": "line", "color": "#e8161e", "strokeWidth": 1.3}},
    {"data": {"name": "b_bars"}, "mark": {"type": "rule", "color": "#000", "strokeWidth": 2.6}, "encoding": {"y2": {"datum": 0}}},
    {"data": {"name": "b_bars"}, "mark": {"type": "text", "angle": 270, "align": "left", "baseline": "middle", "fontSize": 4.5, "dx": 2, "dy": -1, "color": "#000"}, "encoding": {"text": {"field": "t"}}},
    {"data": {"name": "b_legl"}, "mark": {"type": "rule", "color": "#e8161e", "strokeWidth": 1.6}, "encoding": {"x2": {"field": "x2"}}},
    {"data": {"name": "b_legr"}, "mark": {"type": "rect", "color": "#000"}, "encoding": {"x2": {"field": "x2"}, "y2": {"field": "y2"}}},
    {"data": {"name": "b_legt"}, "mark": {"type": "text", "align": "left", "baseline": "middle", "fontSize": 7.5, "color": "#000"}, "encoding": {"text": {"field": "t"}}},
    {"data": {"name": "b_pl"}, "mark": {"type": "text", "align": "center", "baseline": "middle", "font": "Liberation Serif", "fontWeight": "bold", "fontSize": 8, "color": "#000"}, "encoding": {"text": {"field": "t"}}}
   ]}
 ], "bounds": "flush", "spacing": 36, "resolve": {"scale": {"color": "independent"}}},
 {"hconcat": [
  {"width": 197, "height": 151,
   "encoding": {
    "x": {"field": "x", "type": "quantitative", "scale": {"domain": [867.66, 933.5], "nice": false, "zero": false}, "axis": {"title": "Binding Energy (eV)", "domain": false, "values": [870,875,880,885,890,895,900,905,910,915,920,925,930], "labelExpr": "datum.value % 10 === 0 ? datum.label : ''", "tickSize": {"condition": {"test": "datum.value % 10 !== 0", "value": 2}, "value": 3}, "titleFontSize": 9, "titlePadding": 5, "titleX": 101.5}},
    "y": {"field": "y", "type": "quantitative", "scale": {"domain": [73.1, 94], "nice": false, "zero": false}, "axis": {"title": "Intensity (x10⁻³)", "offset": -7, "values": [74,75,76,77,78,79,80,81,82,83,84,85,86,87,88,89,90,91,92,93,94], "labelExpr": "datum.value % 2 === 0 ? datum.label : ''", "tickSize": {"condition": {"test": "datum.value % 2 !== 0", "value": 2}, "value": 3}, "titleFontSize": 8.5, "titlePadding": 8}},
    "color": {"field": "s", "type": "nominal", "legend": null, "scale": {"domain": ["acq","fit","bg","g1","g2","g3","g4","g5","g6","g7","g8","g9"], "range": ["#000000","#1a8f8f","#ff8000","#22a022","#99ff33","#00e8ff","#8a1a9a","#a0103a","#0000ff","#ff00ff","#ffff00","#000080"]}}
   },
   "layer": [
    {"data": {"name": "c_frame_h"}, "mark": {"type": "rule", "strokeWidth": 1}, "encoding": {"x2": {"field": "x2"}, "color": {"value": "#000"}}},
    {"data": {"name": "c_frame_v"}, "mark": {"type": "rule", "strokeWidth": 1}, "encoding": {"y2": {"field": "y2"}, "color": {"value": "#000"}}},
    {"data": {"name": "c_bg"}, "mark": {"type": "line", "strokeWidth": 1.3, "interpolate": "monotone"}},
    {"data": {"name": "c_comp"}, "mark": {"type": "line", "strokeWidth": 1.2, "interpolate": "monotone"}},
    {"data": {"name": "c_acq"}, "mark": {"type": "line", "strokeWidth": 1.2}, "encoding": {"color": {"value": "#000"}}},
    {"data": {"name": "c_fit"}, "mark": {"type": "line", "strokeWidth": 1.5, "interpolate": "monotone"}, "encoding": {"color": {"value": "#1a8f8f"}}},
    {"data": {"name": "c_brh"}, "mark": {"type": "rule", "strokeWidth": 1}, "encoding": {"x2": {"field": "x2"}, "color": {"value": "#000"}}},
    {"data": {"name": "c_brv"}, "mark": {"type": "rule", "strokeWidth": 1}, "encoding": {"y2": {"field": "y2"}, "color": {"value": "#000"}}},
    {"data": {"name": "c_brt"}, "mark": {"type": "text", "align": "right", "baseline": "alphabetic", "fontSize": 9}, "encoding": {"text": {"field": "t"}, "color": {"value": "#000"}}},
    {"data": {"name": "c_brs"}, "mark": {"type": "text", "align": "left", "baseline": "alphabetic", "fontSize": 5.5, "dy": 1.5}, "encoding": {"text": {"field": "t"}, "color": {"value": "#000"}}},
    {"data": {"name": "c_arr"}, "mark": {"type": "rule", "strokeWidth": 1.3}, "encoding": {"x2": {"field": "x2"}, "y2": {"field": "y2"}, "color": {"value": "#000"}}},
    {"data": {"name": "c_head"}, "mark": {"type": "trail"}, "encoding": {"detail": {"field": "id", "type": "nominal"}, "order": {"field": "p", "type": "ordinal"}, "size": {"field": "p", "type": "ordinal", "legend": null, "scale": {"domain": ["base", "tip"], "range": [5, 0]}}, "color": {"value": "#000"}}},
    {"data": {"name": "c_lab"}, "mark": {"type": "text", "align": "center", "baseline": "middle", "fontSize": 7.5}, "encoding": {"text": {"field": "t"}, "color": {"value": "#000"}}},
    {"data": {"name": "c_leg"}, "mark": {"type": "rule", "strokeWidth": 2}, "encoding": {"x2": {"field": "x2"}}},
    {"data": {"name": "c_legt"}, "mark": {"type": "text", "align": "left", "baseline": "middle", "fontSize": 8}, "encoding": {"text": {"field": "t"}, "color": {"value": "#000"}}},
    {"data": {"name": "c_pl"}, "mark": {"type": "text", "align": "center", "baseline": "middle", "font": "Liberation Serif", "fontWeight": "bold", "fontSize": 8}, "encoding": {"text": {"field": "t"}, "color": {"value": "#000"}}}
   ]},
  {"width": 186, "height": 152,
   "encoding": {
    "x": {"field": "x", "type": "quantitative", "scale": {"domain": [524, 536], "nice": false, "zero": false}, "axis": {"title": "Binding Energy (eV)", "values": [524,525,526,527,528,529,530,531,532,533,534,535,536], "labelExpr": "datum.value % 2 === 0 ? datum.label : ''", "tickSize": {"condition": {"test": "datum.value % 2 !== 0", "value": 2}, "value": 3}, "titleFontSize": 9, "titlePadding": 5}},
    "y": {"field": "y", "type": "quantitative", "scale": {"domain": [60, 136.5], "nice": false, "zero": false}, "axis": {"title": "Intensity (x10⁻³)", "values": [60,65,70,75,80,85,90,95,100,105,110,115,120,125,130], "labelExpr": "datum.value % 10 === 0 ? datum.label : ''", "tickSize": {"condition": {"test": "datum.value % 10 !== 0", "value": 2}, "value": 3}, "titleFontSize": 8.5, "titlePadding": 8}},
    "color": {"field": "s", "type": "nominal", "legend": null, "scale": {"domain": ["acq","O1","O2","O3","bg","fit"], "range": ["#000000","#ff0000","#0000ff","#ff00ff","#ff8c00","#1a8a1a"]}}
   },
   "layer": [
    {"data": {"name": "d_acq"}, "mark": {"type": "line", "strokeWidth": 1.4}},
    {"data": {"name": "d_comp"}, "mark": {"type": "line", "strokeWidth": 1.3, "interpolate": "monotone"}},
    {"data": {"name": "d_fit"}, "mark": {"type": "line", "strokeWidth": 1.4, "interpolate": "monotone"}},
    {"data": {"name": "d_leg"}, "mark": {"type": "rule", "strokeWidth": 2}, "encoding": {"x2": {"field": "x2"}}},
    {"data": {"name": "d_legt"}, "mark": {"type": "text", "align": "left", "baseline": "middle", "fontSize": 7.5}, "encoding": {"text": {"field": "t"}, "color": {"value": "#000"}}},
    {"data": {"name": "d_pl"}, "mark": {"type": "text", "align": "center", "baseline": "middle", "font": "Liberation Serif", "fontWeight": "bold", "fontSize": 8}, "encoding": {"text": {"field": "t"}, "color": {"value": "#000"}}}
   ]}
 ], "bounds": "flush", "spacing": 56, "resolve": {"scale": {"color": "independent"}, "legend": {"size": "independent"}}}
]
}
